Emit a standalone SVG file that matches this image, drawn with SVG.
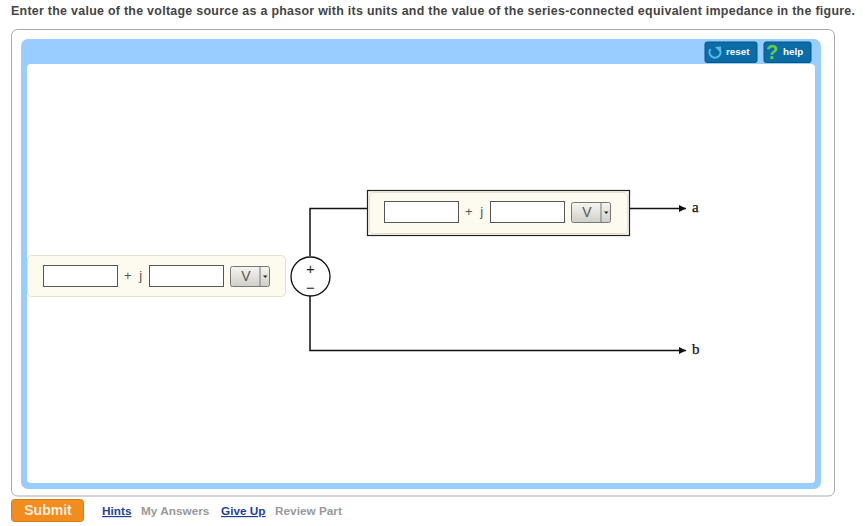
<svg xmlns="http://www.w3.org/2000/svg" width="865" height="526" viewBox="0 0 865 526">
<defs>
<linearGradient id="sel" x1="0" y1="0" x2="0" y2="1"><stop offset="0" stop-color="#f6f5f0"/><stop offset="1" stop-color="#cfcfca"/></linearGradient>
<marker id="arr" markerWidth="8" markerHeight="8" refX="7" refY="3.5" orient="auto" markerUnits="userSpaceOnUse"><path d="M0 0L7 3.5L0 7z" fill="#111"/></marker>
</defs>
<style>
text{font-family:"Liberation Sans",Arial,sans-serif}
.title{font-size:12.4px;font-weight:bold;fill:#444}
.wire{fill:none;stroke:#111;stroke-width:1.5}
.box{fill:#fff;stroke:#555;stroke-width:1}
.panel{fill:#fdfbf0;stroke:#e6e2d2;stroke-width:1}
.sel{fill:url(#sel);stroke:#777;stroke-width:1}
.pj{font-size:13px;fill:#555;letter-spacing:2px}
.v{font-size:14px;fill:#555;text-anchor:middle}
.tool{fill:#0b6ca6;stroke:#075785;stroke-width:1}
.tl{font-size:9.800px;font-weight:bold;fill:#fff}
.lbl{font-family:"Liberation Serif",serif;font-size:15px;fill:#111;stroke:#111;stroke-width:.25}
.link{font-size:11.800px;font-weight:bold;fill:#1f3f95;text-decoration:underline}
.off{font-size:11.800px;font-weight:bold;fill:#999}
</style>
<text class="title" x="11" y="15" textLength="844" lengthAdjust="spacing">Enter the value of the voltage source as a phasor with its units and the value of the series-connected equivalent impedance in the figure.</text>
<rect x="11.500" y="29.500" width="823" height="466.500" rx="6" fill="#fff" stroke="#aaa"/>
<rect x="21" y="39" width="800" height="450" rx="7" fill="#99ccff"/>
<rect x="27" y="64" width="788" height="419" rx="4" fill="#fff"/>
<g id="reset">
<rect class="tool" x="705" y="42" width="52" height="20.500" rx="2"/>
<path d="M710.500 49A5.500 5.500 0 1 0 719.500 49" fill="none" stroke="#55bbee" stroke-width="2"/>
<path d="M721 46.500V53L715 47z" fill="#55bbee"/>
<text class="tl" x="726" y="55">reset</text>
</g>
<g id="help">
<rect class="tool" x="764" y="42" width="47" height="20.500" rx="2"/>
<text x="766" y="59" font-size="20" font-weight="bold" fill="#66cc44">?</text>
<text class="tl" x="783" y="55">help</text>
</g>
<g id="connectors">
<path class="wire" d="M367 208.500H310V256"/>
<path class="wire" d="M310 296V350.500H686" marker-end="url(#arr)"/>
<path class="wire" d="M630 208.500H686" marker-end="url(#arr)"/>
</g>
<g id="impedance">
<rect x="367.500" y="190.500" width="262" height="45" fill="#fdfbf0" stroke="#222" stroke-width="1.200"/>
<rect x="369.500" y="192.500" width="258" height="41" rx="4" fill="none" stroke="#e6e2d2"/>
<rect class="box" x="384.500" y="201.500" width="74" height="21"/>
<text class="pj" x="465" y="216">+ j</text>
<rect class="box" x="490.500" y="201.500" width="74" height="21"/>
<rect class="sel" x="571.500" y="202.500" width="39" height="20" rx="2"/>
<line x1="601" y1="203" x2="601" y2="222" stroke="#777"/>
<text class="v" x="587" y="217">V</text>
<path d="M604 211.500h4.500l-2.250 2.500z" fill="#222"/>
</g>
<g id="source-value">
<rect class="panel" x="27.500" y="255.500" width="258" height="41" rx="4"/>
<rect class="box" x="43.500" y="265.500" width="74" height="21"/>
<text class="pj" x="124" y="280">+ j</text>
<rect class="box" x="149.500" y="265.500" width="74" height="21"/>
<rect class="sel" x="230.500" y="266.500" width="39" height="20" rx="2"/>
<line x1="260" y1="267" x2="260" y2="286" stroke="#777"/>
<text class="v" x="246" y="281">V</text>
<path d="M263 275.500h4.500l-2.250 2.500z" fill="#222"/>
</g>
<g id="source">
<circle cx="310.500" cy="276.500" r="19.500" fill="#fff" stroke="#111" stroke-width="1.300"/>
<text x="310.500" y="274" font-size="15" fill="#222" text-anchor="middle">+</text>
<text x="310.500" y="293" font-size="15" fill="#222" text-anchor="middle">−</text>
</g>
<g id="terminal-a"><text class="lbl" x="692" y="212">a</text></g>
<g id="terminal-b"><text class="lbl" x="692" y="354">b</text></g>
<g id="footer">
<rect x="11.500" y="499.500" width="72" height="22" rx="3" fill="#f18c1f" stroke="#d97c18"/>
<text x="48" y="515" font-size="14" font-weight="bold" fill="#fff" fill-opacity=".85" text-anchor="middle">Submit</text>
<text class="link" x="102" y="515">Hints</text>
<text class="off" x="141" y="515">My Answers</text>
<text class="link" x="221" y="515">Give Up</text>
<text class="off" x="275" y="515">Review Part</text>
</g>
</svg>
